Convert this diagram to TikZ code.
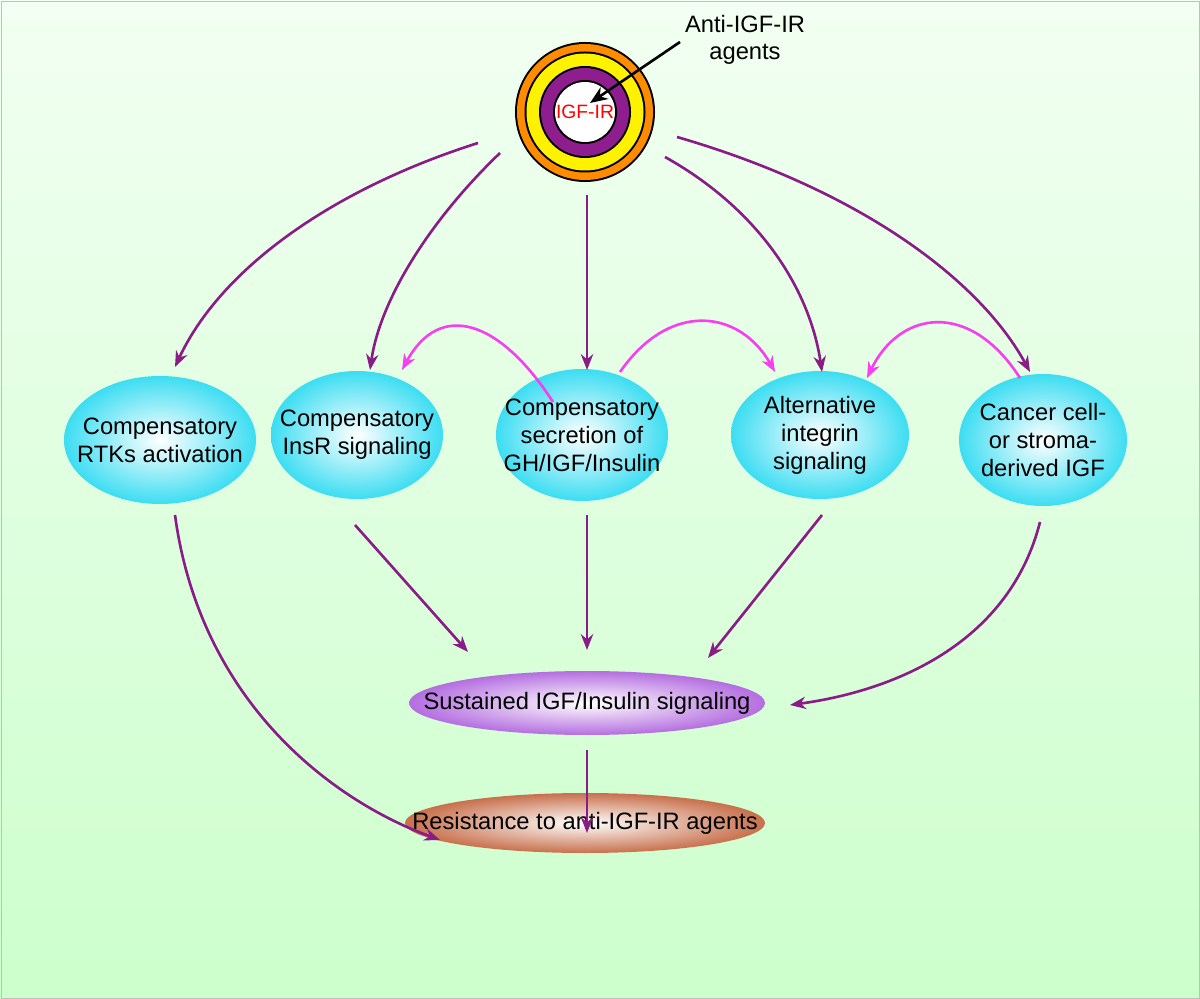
\documentclass[tikz,border=0pt]{standalone}
\usepackage{fontspec}
\setmainfont{Liberation Sans}
\usetikzlibrary{arrows.meta,shapes.geometric}
\definecolor{arr}{HTML}{8A1C88}
\definecolor{mag}{HTML}{F640F0}
\definecolor{cyo}{HTML}{3CDDF2}
\definecolor{vio}{HTML}{B46EE0}
\definecolor{brn}{HTML}{C8704C}
\definecolor{ring}{HTML}{8E1E8E}
\tikzset{
 lbl/.style={align=center,inner sep=0pt,font=\fontsize{13.5}{16}\selectfont},
 pa/.style={draw=arr,line width=1.5pt,-{Stealth[length=9pt,width=7pt]}},
 ma/.style={draw=mag,line width=1.5pt,-{Stealth[length=9pt,width=7pt]}},
 cyf/.style={inner color=white,outer color=cyo},
}
\begin{document}
\begin{tikzpicture}[x=0.02cm,y=-0.02cm]
\useasboundingbox (0,0) rectangle (1200,999);
\shade[top color=white!95!green,bottom color=green!20!white] (0,0) rectangle (1200,999);
\draw[gray!50] (1,1) rectangle (1199,998);
% target
\fill[black] (585,112) circle (70);
\fill[orange!90!yellow] (585,112) circle (68);
\fill[black] (585,112) circle (60.5);
\fill[yellow] (585,112) circle (58.5);
\fill[black] (585,112) circle (46);
\fill[ring] (585,112) circle (44);
\fill[black] (585,112) circle (32);
\fill[white] (585,112) circle (30);
\node[text=red,font=\fontsize{11}{13}\selectfont] (ir) at (585,112) {IGF-IR};
\node[align=center,font=\fontsize{13.5}{15.5}\selectfont] (ag) at (745,40) {Anti-IGF-IR\\agents};
\coordinate (ags) at (680,42);
\draw[line width=1.5pt,-{Stealth[length=10pt,width=8pt]}] (ags) -- (590,103);
% ellipses
\shade[cyf] (160,440) ellipse (96 and 64);
\shade[cyf] (357,435) ellipse (86 and 64);
\shade[cyf] (582,435) ellipse (86 and 66);
\shade[cyf] (820,435) ellipse (89 and 64);
\shade[cyf] (1043,440) ellipse (84 and 66);
\shade[inner color=white,outer color=vio] (587,703) ellipse (178 and 32);
\shade[inner color=white,outer color=brn] (585,823) ellipse (180 and 30);
\node[lbl] (a) at (160,440) {Compensatory\\RTKs activation};
\node[lbl] (b) at (357,435) {Compensatory\\InsR signaling};
\node[lbl] (c) at (582,435) {Compensatory\\secretion of\\GH/IGF/Insulin};
\node[lbl] (d) at (820,435) {Alternative\\integrin\\signaling};
\node[lbl] (e) at (1043,440) {Cancer cell-\\or stroma-\\derived IGF};
\node[lbl] (s) at (587,703) {Sustained IGF/Insulin signaling};
\node[lbl] (r) at (585,823) {Resistance to anti-IGF-IR agents};
% top arrows
\coordinate (t1) at (478,143); \coordinate (t2) at (500,153); \coordinate (t3) at (587,195);
\coordinate (t4) at (665,157); \coordinate (t5) at (677,137);
\draw[pa] (t1) .. controls (330,190) and (220,270) .. (175,367);
\draw[pa] (t2) .. controls (430,220) and (380,300) .. (370,370);
\draw[pa] (t3) -- (587,370);
\draw[pa] (t4) .. controls (760,210) and (810,290) .. (822,372);
\draw[pa] (t5) .. controls (860,190) and (980,280) .. (1030,372);
% magenta
\draw[ma] (553,402) .. controls (500,320) and (440,300) .. (402,370);
\draw[ma] (620,372) .. controls (670,300) and (740,310) .. (775,372);
\draw[ma] (1020,378) .. controls (970,300) and (900,310) .. (867,378);
% bottom
\draw[pa] (175,515) .. controls (200,700) and (330,800) .. (440,840);
\draw[pa] (355,525) -- (468,652);
\draw[pa] (587,515) -- (587,650);
\draw[pa] (822,515) -- (708,658);
\draw[pa] (1040,522) .. controls (1010,640) and (900,690) .. (790,705);
\draw[pa] (587,750) -- (587,833);
\end{tikzpicture}
\end{document}
